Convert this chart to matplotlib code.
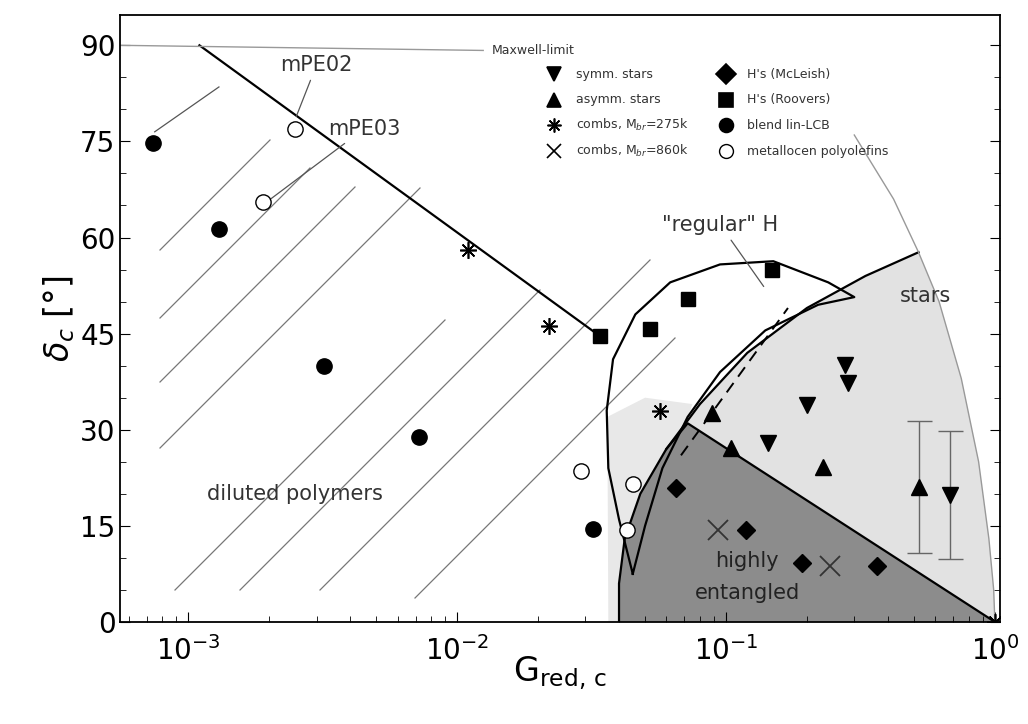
import numpy as np
import matplotlib
matplotlib.use("Agg")
import matplotlib.pyplot as plt
from matplotlib.patches import Polygon

# ---- data ----
blend_x = [7.4e-4, 1.3e-3, 3.2e-3, 7.2e-3, 0.032]
blend_y = [74.7, 61.3, 40.0, 28.9, 14.5]
metal_x = [2.5e-3, 1.9e-3, 0.029, 0.045, 0.043]
metal_y = [77.0, 65.5, 23.6, 21.5, 14.4]
comb275_x = [0.011, 0.022, 0.057, 1.0]
comb275_y = [58.0, 46.2, 32.9, 0.0]
comb860_x = [0.093, 0.244]
comb860_y = [14.4, 8.7]
roov_x = [0.034, 0.052, 0.072, 0.148]
roov_y = [44.6, 45.7, 50.4, 54.9]
mcl_x = [0.065, 0.119, 0.192, 0.364]
mcl_y = [20.9, 14.4, 9.2, 8.7]
sym_x = [0.277, 0.284, 0.20, 0.143, 0.68]
sym_y = [40.1, 37.3, 33.9, 27.9, 19.8]
sym_err = [0, 0, 0, 0, 10.0]
asym_x = [0.089, 0.104, 0.23, 0.52]
asym_y = [32.6, 27.1, 24.2, 21.1]
asym_err = [0, 0, 0, 10.3]

# schematic region outlines
dil_x = [1.1e-3, 0.034]
dil_y = [90, 44.6]
ent_x = [0.040, 0.040, 0.042, 0.048, 0.060, 0.072, 1.0]
ent_y = [0, 6, 13, 20, 27, 31, 0]
stars_x = [0.040, 0.040, 0.042, 0.048, 0.060, 0.080, 0.12, 0.20, 0.33, 0.52]
stars_y = [0, 6, 13, 20, 27, 34, 42, 49, 54, 57.7]
maxw_x = [0.30, 0.42, 0.52, 0.62, 0.75, 0.87, 0.95, 0.99, 1.0]
maxw_y = [76, 66, 57.7, 50, 38, 25, 13, 5, 0]
H_x = [0.045, 0.040, 0.0365, 0.036, 0.038, 0.046, 0.062, 0.095, 0.15, 0.24, 0.30,
       0.22, 0.14, 0.095, 0.072, 0.058, 0.050, 0.045]
H_y = [7.5, 16, 24, 33, 41, 48, 53, 55.8, 56.3, 53, 50.7,
       49.5, 45.5, 39, 32, 24, 15, 7.5]

fig = plt.figure(figsize=(10.28, 7.24), dpi=100)
ax = fig.add_axes([0.117, 0.141, 0.856, 0.838])
ax.set_xscale("log")
ax.set_xlim(10**-3.253, 10**0.02)
ax.set_ylim(0, 94.7)

# light gray zones
fx = stars_x + [x for x, y in zip(maxw_x, maxw_y) if y < 57.7]
fy = stars_y + [y for y in maxw_y if y < 57.7]
ax.add_patch(Polygon(np.column_stack([fx, fy]), closed=True, fc="#e2e2e2", ec="none", zorder=0))
ax.add_patch(Polygon([[0.0365, 0], [0.0362, 32], [0.05, 35], [0.075, 34], [0.040, 0]],
                     closed=True, fc="#e8e8e8", ec="none", zorder=0))
ax.add_patch(Polygon(np.column_stack([ent_x, ent_y]), closed=True, fc="#8c8c8c",
                     ec="none", zorder=1))
ax.plot(ent_x[4:], ent_y[4:], color="k", lw=1.6, zorder=2)
ax.plot(stars_x, stars_y, color="k", lw=1.6, zorder=2)
ax.plot(maxw_x, maxw_y, color="#999999", lw=1.0, zorder=2)
ax.plot(H_x, H_y, color="k", lw=1.6, zorder=2)
ax.plot([0.068, 0.17], [26, 49], color="k", lw=1.4, ls=(0, (6, 4)), zorder=2)
ax.plot(dil_x, dil_y, color="k", lw=1.6, zorder=2)
ax.plot([10**-3.253, 0.0125], [90, 89.2], color="#999999", lw=1.0)

# hatch lines (diluted region), 45 deg in pixel space
inv = ax.transData.inverted()
starts = [(160, 250), (160, 318), (160, 382), (160, 448), (175, 590), (240, 590),
          (320, 590), (415, 598)]
lens = [110, 150, 195, 260, 270, 300, 330, 260]
H = 724
for (px, py), L in zip(starts, lens):
    p0 = inv.transform((px, H - py))
    p1 = inv.transform((px + L, H - py + L))
    ax.plot([p0[0], p1[0]], [p0[1], p1[1]], color="#777777", lw=0.9, zorder=1)

# points
ax.plot(blend_x, blend_y, "o", color="k", ms=11, zorder=5)
ax.plot(metal_x, metal_y, "o", mfc="white", mec="k", ms=11, zorder=5)
ax.plot(comb275_x, comb275_y, marker=(8, 2, 0), ls="none", color="k", ms=12, mew=1.2, zorder=5)
ax.plot(comb860_x, comb860_y, "x", color="#333333", ms=14, mew=1.3, zorder=5)
ax.plot(roov_x, roov_y, "s", color="k", ms=10, zorder=5)
ax.plot(mcl_x, mcl_y, "D", color="k", ms=9, zorder=5)
ax.plot(sym_x, sym_y, "v", color="k", ms=12, zorder=5)
ax.plot(asym_x, asym_y, "^", color="k", ms=12, zorder=5)
for xs, ys, es in [(sym_x, sym_y, sym_err), (asym_x, asym_y, asym_err)]:
    for x, y, e in zip(xs, ys, es):
        if e > 0:
            ax.errorbar([x], [y], yerr=[e], fmt="none", ecolor="#666666",
                        elinewidth=1, capsize=9, zorder=4)

# annotations
ax.annotate("mPE02", xy=(2.5e-3, 78.5), xytext=(2.2e-3, 86), fontsize=15, color="#333333",
            arrowprops=dict(arrowstyle="-", color="#555555", lw=0.9))
ax.annotate("mPE03", xy=(1.95e-3, 65.5), xytext=(3.3e-3, 76), fontsize=15, color="#333333",
            arrowprops=dict(arrowstyle="-", color="#555555", lw=0.9))
ax.plot([7.5e-4, 1.3e-3], [76.5, 83.5], color="#555555", lw=0.9)
ax.annotate('"regular" H', xy=(0.14, 52), xytext=(0.058, 61), fontsize=15, color="#333333",
            arrowprops=dict(arrowstyle="-", color="#555555", lw=0.9))
ax.text(0.0135, 89.2, "Maxwell-limit", fontsize=9, color="#333333", va="center")
ax.text(2.5e-3, 19, "diluted polymers", fontsize=15, color="#333333", ha="center")
ax.text(0.12, 8.5, "highly", fontsize=15, color="#222222", ha="center")
ax.text(0.12, 3.5, "entangled", fontsize=15, color="#222222", ha="center")
ax.text(0.55, 50, "stars", fontsize=15, color="#333333", ha="center")

# legend (manual)
leg = [("v", "symm. stars", 0.023, 85.5), ("^", "asymm. stars", 0.023, 81.5),
       ((8, 2, 0), r"combs, M$_{br}$=275k", 0.023, 77.5), ("x", r"combs, M$_{br}$=860k", 0.023, 73.5),
       ("D", "H's (McLeish)", 0.1, 85.5), ("s", "H's (Roovers)", 0.1, 81.5),
       ("o", "blend lin-LCB", 0.1, 77.5), ("O", "metallocen polyolefins", 0.1, 73.5)]
for m, lab, x, y in leg:
    if m == "O":
        ax.plot([x], [y], "o", mfc="white", mec="k", ms=10)
    else:
        ax.plot([x], [y], marker=m, color="k", ms=10, ls="none", mew=1.2)
    ax.text(x * 1.2, y, lab, fontsize=9, va="center", color="#333333")

ax.set_yticks([0, 15, 30, 45, 60, 75, 90])
ax.yaxis.set_minor_locator(matplotlib.ticker.MultipleLocator(5))
ax.tick_params(which="both", direction="in", right=True, top=False, labelsize=20)
ax.tick_params(which="major", length=7)
ax.tick_params(which="minor", length=4)
ax.tick_params(axis="x", pad=10)
for s in ax.spines.values():
    s.set_linewidth(1.3)
ax.set_xlabel(r"G$_{\rm red,\,c}$", fontsize=24, labelpad=-8)
ax.set_ylabel(r"$\delta_c$ [°]", fontsize=24, labelpad=2)
fig.savefig("out.png", dpi=100)
